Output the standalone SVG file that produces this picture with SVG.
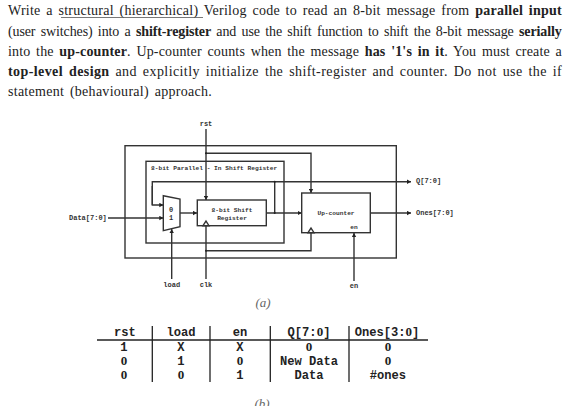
<svg xmlns="http://www.w3.org/2000/svg" width="567" height="406" viewBox="0 0 567 406">
<style>
.p{font-family:"Liberation Serif","DejaVu Serif",serif;font-size:14px;letter-spacing:0.3px;word-spacing:2px;fill:#222}
.p tspan.b{font-weight:bold}
.d{font-family:"Liberation Mono",monospace;font-size:7px;font-weight:bold;fill:#333}
.f{font-size:6.2px}
.t{font-family:"Liberation Mono",monospace;font-size:12.1px;font-weight:bold;fill:#222;text-anchor:middle}
.z{font-family:"Liberation Serif",serif;font-size:13px}
.c{font-family:"Liberation Serif",serif;font-size:13px;font-style:italic;fill:#666;text-anchor:middle}
.m{text-anchor:middle}
.s{fill:none;stroke:#333;stroke-width:1.4}
.n{fill:#fff;stroke:#333;stroke-width:1.4}
.h{fill:none;stroke:#222;stroke-width:1.3}
</style>
<defs>
<marker id="a" markerUnits="userSpaceOnUse" markerWidth="5" markerHeight="5" refX="4" refY="2.5" orient="auto"><path d="M0 0.3L4 2.5L0 4.7z" fill="#222"/></marker>
</defs>
<rect width="567" height="406" fill="#fff"/>
<g id="paragraph">
<text class="p" x="8" y="15" textLength="554" lengthAdjust="spacing">Write a structural (hierarchical) Verilog code to read an 8-bit message from <tspan class="b">parallel input</tspan></text>
<path d="M61 17.5H203" stroke="#555" stroke-width="0.8"/>
<text class="p" x="8" y="35.5" textLength="554" lengthAdjust="spacing">(user switches) into a <tspan class="b">shift-register</tspan> and use the shift function to shift the 8-bit message <tspan class="b">serially</tspan></text>
<text class="p" x="8" y="56" textLength="554" lengthAdjust="spacing">into the <tspan class="b">up-counter</tspan>. Up-counter counts when the message <tspan class="b">has '1's in it</tspan>. You must create a</text>
<text class="p" x="8" y="76" textLength="554" lengthAdjust="spacing"><tspan class="b">top-level design</tspan> and explicitly initialize the shift-register and counter. Do not use the if</text>
<text class="p" x="8" y="96" textLength="204" lengthAdjust="spacing">statement (behavioural) approach.</text>
</g>
<g id="outer-module"><rect class="n" x="125" y="145.7" width="271.3" height="112.3"/></g>
<g id="shift-register-module"><rect class="n" x="146" y="161.3" width="138" height="81.7"/>
<text class="d f" x="151" y="169.5">8-bit Parallel - In Shift Register</text></g>
<g id="connectors">
<path class="s" d="M206 129V153.3H311V193" marker-end="url(#a)"/>
<path class="s" d="M206 153V200" marker-end="url(#a)"/>
<path class="s" d="M206 279V226"/>
<path class="s" d="M206 250.7H311V233"/>
<path class="s" d="M152.3 205V181.7H411" marker-end="url(#a)"/>
<path class="s" d="M152.3 186V205H163.3" marker-end="url(#a)"/>
<path class="s" d="M108 218H163.3" marker-end="url(#a)"/>
<path class="s" d="M180 213H197" marker-end="url(#a)"/>
<path class="s" d="M266.3 213H301.7" marker-end="url(#a)"/>
<path class="s" d="M274.7 181.7V213"/>
<path class="s" d="M370.3 213H411" marker-end="url(#a)"/>
<path class="s" d="M171.7 279V229" marker-end="url(#a)"/>
<path class="s" d="M354 281V233" marker-end="url(#a)"/>
<circle cx="206" cy="153.3" r="1" fill="#222"/><circle cx="206" cy="250.7" r="1" fill="#222"/><circle cx="274.7" cy="181.7" r="1" fill="#222"/><circle cx="274.7" cy="213" r="1" fill="#222"/>
</g>
<g id="mux"><path class="n" d="M163.3 195.7L180 199V226.7L163.3 230.7z"/>
<text class="d m" x="171" y="211.5">0</text><text class="d m" x="171" y="220">1</text></g>
<g id="shift-register"><rect class="n" x="197.3" y="200" width="69" height="25.7"/>
<path class="n" d="M203 225.7L206 221L209 225.7z"/>
<text class="d f m" x="232" y="211.5">8-bit Shift</text><text class="d f m" x="232" y="219.5">Register</text></g>
<g id="up-counter"><rect class="n" x="301.7" y="193" width="68.6" height="39.7"/>
<path class="n" d="M308 232.7L311 228L314 232.7z"/>
<text class="d f m" x="336" y="215">Up-counter</text><text class="d f m" x="354" y="228.5">en</text></g>
<g id="labels">
<text class="d m" x="206" y="125.5">rst</text>
<text class="d" x="69" y="220">Data[7:0]</text>
<text class="d" x="416" y="182.5">Q[7:0]</text>
<text class="d" x="416" y="214.5">Ones[7:0]</text>
<text class="d m" x="171.7" y="287">load</text>
<text class="d m" x="206" y="287">clk</text>
<text class="d m" x="354" y="288">en</text>
</g>
<text class="c" x="263" y="307">(a)</text>
<g id="table">
<path class="h" d="M97 340H428" stroke-width="1.5"/>
<path class="h" d="M152.3 326V382M210 326V382M270.3 326V382M349 326V382"/>
<text class="t" x="125" y="336">rst</text><text class="t" x="181" y="336">load</text><text class="t" x="240" y="336">en</text><text class="t" x="309" y="336">Q[7:<tspan class="z">0</tspan>]</text><text class="t" x="387" y="336">Ones[3:<tspan class="z">0</tspan>]</text>
<text class="t" x="124" y="351">1</text><text class="t" x="181" y="351">X</text><text class="t" x="240" y="351">X</text><text class="t z" x="309" y="351">0</text><text class="t z" x="388" y="351">0</text>
<text class="t z" x="124" y="365">0</text><text class="t" x="181" y="365">1</text><text class="t z" x="240" y="365">0</text><text class="t" x="309" y="365">New Data</text><text class="t z" x="388" y="365">0</text>
<text class="t z" x="124" y="379">0</text><text class="t z" x="181" y="379">0</text><text class="t" x="240" y="379">1</text><text class="t" x="309" y="379">Data</text><text class="t" x="388" y="379">#ones</text>
</g>
<text class="c" x="262" y="408">(b)</text>
</svg>
